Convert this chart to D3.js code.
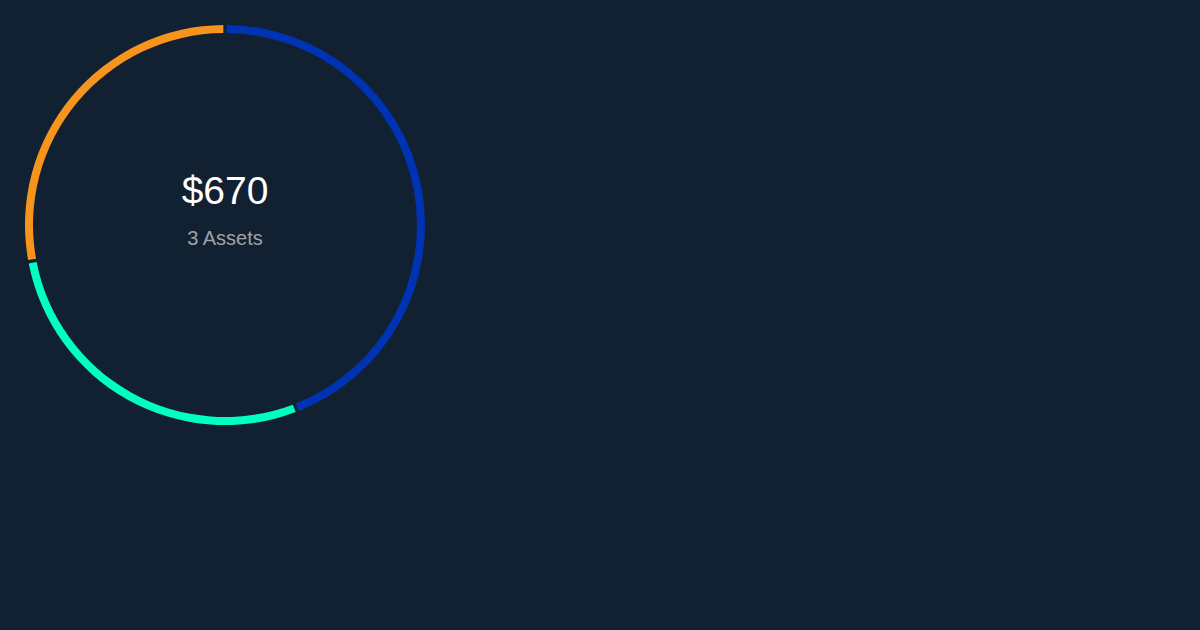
<!DOCTYPE html>
<html>
<head>
<meta charset="utf-8">
<script src="https://cdn.jsdelivr.net/npm/d3@7"></script>
<style>
  html, body { margin: 0; padding: 0; background: #112132; }
  body { width: 1200px; height: 630px; overflow: hidden; }
</style>
</head>
<body>
<div class="canvas"></div>
<script>
// asset values
const assets = ['Asset A', 'Asset B', 'Asset C'];
const values = [296, 187, 187];
const colors = ['#0033b4', '#00ffc0', '#f7941d'];

const total = d3.sum(values);

const svg = d3.select('.canvas').append('svg')
    .attr('width', 1200)
    .attr('height', 630);

const group = svg.append('g')
    .attr('transform', 'translate(225, 225)');

const pie = d3.pie()
    .value(d => d.value)
    .sort(null)
    .padAngle(0.012);

const arc = d3.arc()
    .innerRadius(192)
    .outerRadius(200);

const data = assets.map((a, i) => ({ name: a, value: values[i], color: colors[i] }));

group.selectAll('path')
    .data(pie(data))
    .enter().append('path')
    .attr('d', arc)
    .attr('fill', d => d.data.color);

group.append('text')
    .attr('y', -21)
    .attr('text-anchor', 'middle')
    .attr('fill', '#ffffff')
    .style('font-family', 'Liberation Sans, Arial, sans-serif')
    .style('font-size', '39px')
    .text('$' + total);

group.append('text')
    .attr('y', 19.5)
    .attr('text-anchor', 'middle')
    .attr('fill', '#9fa3a8')
    .style('font-family', 'Liberation Sans, Arial, sans-serif')
    .style('font-size', '20px')
    .text(values.length + ' Assets');
</script>
</body>
</html>
